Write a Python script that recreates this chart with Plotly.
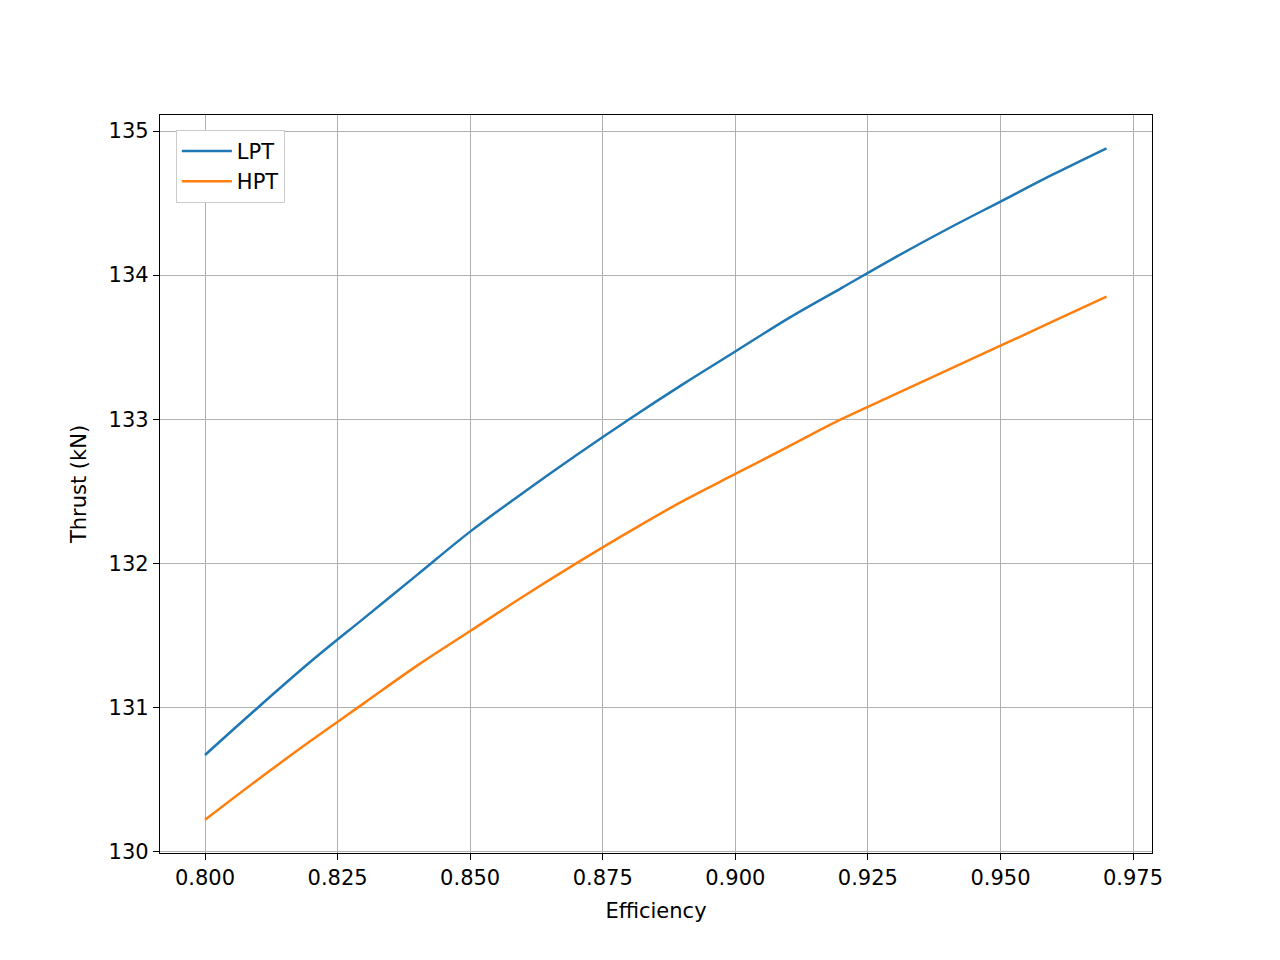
import plotly.graph_objects as go

efficiency = [0.80,0.81,0.82,0.83,0.84,0.85,0.86,0.87,0.88,0.89,0.90,0.91,0.92,0.93,0.94,0.95,0.96,0.97]
lpt = [130.67,131.00,131.32,131.62,131.92,132.22,132.49,132.75,133.00,133.24,133.47,133.70,133.91,134.12,134.32,134.51,134.70,134.88]
hpt = [130.22,130.50,130.77,131.03,131.29,131.53,131.77,132.00,132.22,132.43,132.62,132.81,133.00,133.17,133.34,133.51,133.68,133.85]
xticks = [0.800,0.825,0.850,0.875,0.900,0.925,0.950,0.975]
yticks = [130,131,132,133,134,135]

fig = go.Figure()
fig.add_trace(go.Scatter(x=efficiency, y=lpt, mode="lines", name="LPT", line=dict(color="#1f77b4", width=2.5, shape="spline")))
fig.add_trace(go.Scatter(x=efficiency, y=hpt, mode="lines", name="HPT", line=dict(color="#ff7f0e", width=2.5, shape="spline")))

axis_common = dict(showline=True, linecolor="black", linewidth=1.2, mirror=True, ticks="outside",
                   ticklen=6, tickcolor="black", showgrid=True, gridcolor="#b0b0b0", gridwidth=1,
                   zeroline=False, tickfont=dict(size=21, color="black"))
fig.update_xaxes(range=[0.79151, 0.97858], tickvals=xticks, ticktext=[f"{v:.3f}" for v in xticks],
                 title=dict(text="Efficiency", font=dict(size=21, color="black"), standoff=14), **axis_common)
fig.update_yaxes(range=[129.99, 135.111], tickvals=yticks, ticktext=[str(v) for v in yticks],
                 title=dict(text="Thrust (kN)", font=dict(size=21, color="black"), standoff=16), **axis_common)
fig.update_layout(width=1280, height=960, margin=dict(l=152, r=136, t=107, b=115),
                  paper_bgcolor="white", plot_bgcolor="white",
                  font=dict(family="DejaVu Sans", color="black"),
                  legend=dict(x=0.016, y=0.98, xanchor="left", yanchor="top", bgcolor="white",
                              bordercolor="#cccccc", borderwidth=1, font=dict(size=21),
                              itemwidth=50))
fig.write_html("out.html")
